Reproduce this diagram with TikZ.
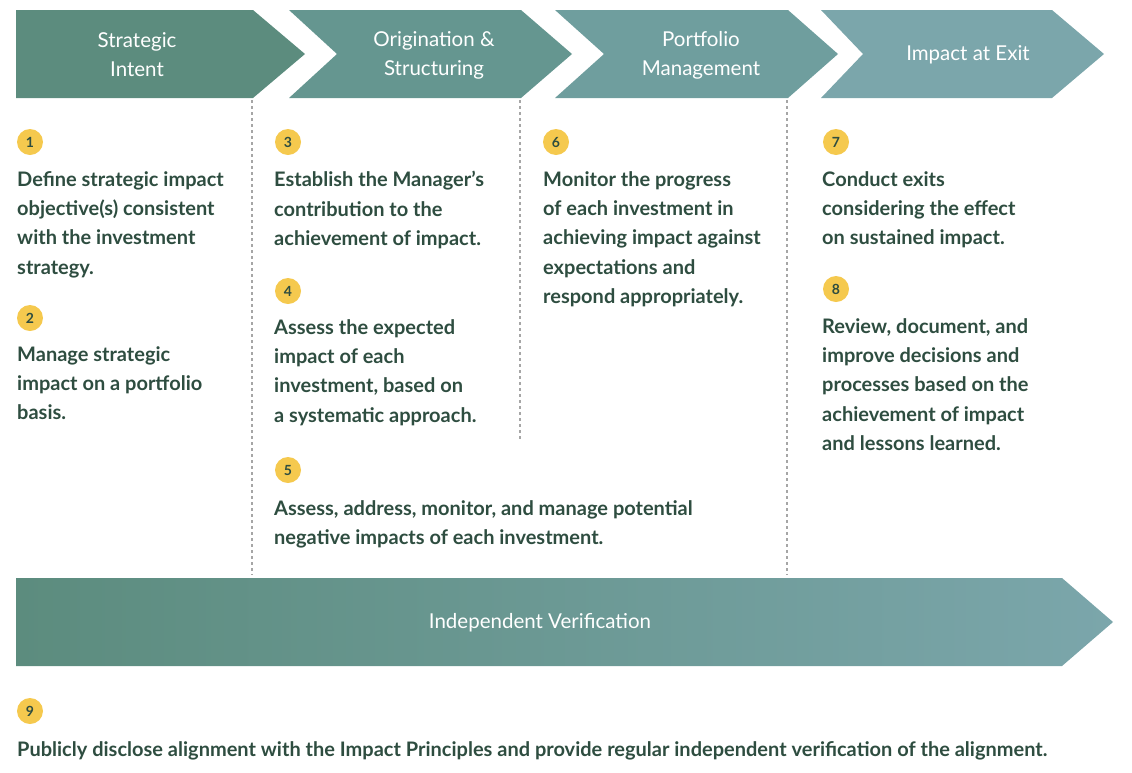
\documentclass[tikz,border=0pt]{standalone}
\usepackage{fontspec}
\setmainfont{Lato}
\definecolor{txt}{HTML}{2E4D40}
\definecolor{cA}{HTML}{5C8C7E}
\definecolor{cB}{HTML}{659690}
\definecolor{cC}{HTML}{6F9E9E}
\definecolor{cD}{HTML}{7BA6AB}
\definecolor{yel}{HTML}{F5C94E}
\begin{document}
\begin{tikzpicture}[x=1pt,y=-1pt,
  body/.style={anchor=north west,align=left,font=\bfseries\fontsize{20}{29.4}\selectfont,text=txt,inner sep=0},
  head/.style={align=center,font=\fontsize{20.5}{29}\selectfont,text=white},
  num/.style={circle,fill=yel,minimum size=26,inner sep=0,font=\bfseries\fontsize{14}{14}\selectfont,text=txt},
  sep/.style={draw=gray!70,dashed,line width=1.2pt,dash pattern=on 3pt off 3pt}]
\useasboundingbox (0,0) rectangle (1132,772);
\fill[cA] (16,10) -- (253,10) -- (305,54) -- (253,98) -- (16,98) -- cycle;
\fill[cB] (289,10) -- (521,10) -- (572,54) -- (521,98) -- (289,98) -- (337,54) -- cycle;
\fill[cC] (555,10) -- (788,10) -- (838,54) -- (788,98) -- (555,98) -- (604,54) -- cycle;
\fill[cD] (821,10) -- (1052,10) -- (1104,54) -- (1052,98) -- (821,98) -- (863,54) -- cycle;
\node[head] (h1) at (137,55) {Strategic\\Intent};
\node[head] (h2) at (434,55) {Origination \&\\Structuring};
\node[head] (h3) at (701,55) {Portfolio\\Management};
\node[head] (h4) at (968,55) {Impact at Exit};
\coordinate (s1a) at (252,100); \coordinate (s1b) at (252,575);
\coordinate (s2a) at (520,100); \coordinate (s2b) at (520,440);
\coordinate (s3a) at (787,100); \coordinate (s3b) at (787,575);
\draw[sep] (s1a) -- (s1b); \draw[sep] (s2a) -- (s2b); \draw[sep] (s3a) -- (s3b);
\shade[left color=cA,right color=cD] (16,578) -- (1062,578) -- (1113,622) -- (1062,666) -- (16,666) -- cycle;
\node[head] (iv) at (540,623) {Independent Verification};
\node[num] (n1) at (30,142) {1};
\node[body] (t1) at (17,171) {Define strategic impact\\objective(s) consistent\\with the investment\\strategy.};
\node[num] (n2) at (30,318) {2};
\node[body] (t2) at (17,346) {Manage strategic\\impact on a portfolio\\basis.};
\node[num] (n3) at (288,142) {3};
\node[body] (t3) at (274,171) {Establish the Manager’s\\contribution to the\\achievement of impact.};
\node[num] (n4) at (288,291) {4};
\node[body] (t4) at (274,319) {Assess the expected\\impact of each\\investment, based on\\a systematic approach.};
\node[num] (n5) at (288,470) {5};
\node[body] (t5) at (274,500) {Assess, address, monitor, and manage potential\\negative impacts of each investment.};
\node[num] (n6) at (556,142) {6};
\node[body] (t6) at (543,171) {Monitor the progress\\of each investment in\\achieving impact against\\expectations and\\respond appropriately.};
\node[num] (n7) at (836,142) {7};
\node[body] (t7) at (822,171) {Conduct exits\\considering the effect\\on sustained impact.};
\node[num] (n8) at (836,289) {8};
\node[body] (t8) at (822,318) {Review, document, and\\improve decisions and\\processes based on the\\achievement of impact\\and lessons learned.};
\node[num] (n9) at (30,711) {9};
\node[body] (t9) at (17,741) {Publicly disclose alignment with the Impact Principles and provide regular independent verification of the alignment.};
\end{tikzpicture}
\end{document}
